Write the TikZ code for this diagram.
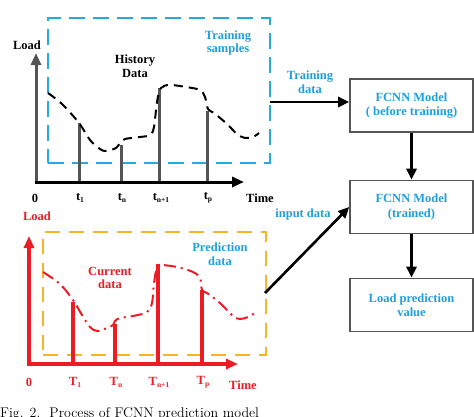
\documentclass[tikz,border=0pt]{standalone}
\usepackage{fontspec}
\newfontfamily\tnr{Liberation Serif}
\usetikzlibrary{arrows.meta}
\definecolor{cblue}{RGB}{30,160,222}
\definecolor{cbox}{RGB}{40,168,224}
\definecolor{corange}{RGB}{246,180,40}
\definecolor{cred}{RGB}{236,28,36}
\definecolor{cgray}{RGB}{85,85,85}
\newcommand\sbs[1]{\raisebox{-0.35ex}{\fontsize{7.5}{7.5}\selectfont #1}}
\tikzset{
  lab/.style={font=\tnr\bfseries\fontsize{12.5}{13.5}\selectfont, inner sep=0pt, align=center},
  blab/.style={lab, text=cblue},
  rlab/.style={lab, text=cred},
  modelbox/.style={draw=cgray, line width=1.6pt, minimum width=123pt, minimum height=53pt, inner sep=0pt, align=center, font=\tnr\bfseries\fontsize{12.5}{14.5}\selectfont, text=cblue},
  flow/.style={line width=2.6pt, -{Triangle[length=11pt,width=10pt]}},
  axis/.style={line width=3pt, -{Triangle[length=12pt,width=10pt]}},
  bar/.style={line width=3pt, cgray},
  rbar/.style={line width=3.5pt, cred},
}
\begin{document}
\begin{tikzpicture}[x=1pt,y=-1pt]
\useasboundingbox (0,0) rectangle (474,416);
\clip (0,0) rectangle (474,416);
% ---------------- top chart ----------------
\node[draw=cbox, line width=2.6pt, dash pattern=on 16pt off 8pt, minimum width=222pt, minimum height=145pt, inner sep=0pt] (tb) at (159,90.5) {};
\coordinate (o1) at (36,182);
\draw[bar] (79,182) -- (79,123);
\draw[bar] (121,182) -- (121,145);
\draw[bar] (159,182) -- (159,88);
\draw[bar] (207,182) -- (207,111);
\draw[axis, cgray] (o1) -- (36,53);
\draw[axis, black] (34.5,182) -- (244,182);
\draw[line width=2pt, dash pattern=on 9pt off 6pt] plot[smooth, tension=0.55] coordinates {
 (48,93) (62,104) (79,123) (90,140) (100,149) (106,151) (116,148) (120,143) (125,139) (140,137) (150,135) (154,127) (157,102) (161,88) (170,85) (186,87) (200,90) (205,97) (208,109) (214,113) (227,124) (237,134) (245,138) (253,137) (259,133)};
\node[lab] (load1) at (27,45) {Load};
\node[lab] (hist) at (135,66) {History\\Data};
\node[blab] (tsam) at (228,43) {Training\\samples};
\node[lab] (z1) at (35,198) {0};
\node[lab] (t1) at (80,198) {t\sbs{1}};
\node[lab] (tn) at (122,198) {t\sbs{n}};
\node[lab] (tn1) at (161,198) {t\sbs{n+1}};
\node[lab] (tp) at (208,198) {t\sbs{p}};
\node[lab] (time1) at (260,198) {Time};
% ---------------- bottom chart ----------------
\node[draw=corange, line width=2.6pt, dash pattern=on 15pt off 9pt, minimum width=223pt, minimum height=123pt, inner sep=0pt] (ob) at (154.5,293.5) {};
\coordinate (o2) at (29,364);
\draw[rbar] (73,364) -- (73,302);
\draw[rbar] (115,364) -- (115,324);
\draw[rbar] (158,364) -- (158,264);
\draw[rbar] (202,364) -- (202,290);
\draw[axis, cred, line width=3.5pt] (o2) -- (29,236);
\draw[axis, cred, line width=3.5pt] (27.3,364) -- (238,364);
\draw[cred, line width=2pt, dash pattern=on 12pt off 5pt on 2pt off 5pt] plot[smooth, tension=0.55] coordinates {
 (43,272) (60,284) (73,300) (82,315) (90,327) (97,331) (107,328) (113,325) (115,321) (120,318) (133,316) (147,312) (152,303) (154,283) (157,267) (161,265) (177,267) (193,272) (200,278) (202,290) (207,293) (220,303) (233,316) (240,319) (248,317) (255,313)};
\node[rlab] (load2) at (37,216) {Load};
\node[rlab] (cur) at (110,278) {Current\\data};
\node[blab] (pred) at (220,254) {Prediction\\data};
\node[rlab] (z2) at (29,382) {0};
\node[rlab] (T1) at (75,382) {T\sbs{1}};
\node[rlab] (Tn) at (116,382) {T\sbs{n}};
\node[rlab] (Tn1) at (159,382) {T\sbs{n+1}};
\node[rlab] (Tp) at (203,382) {T\sbs{p}};
\node[rlab] (time2) at (243,385) {Time};
% ---------------- right flow ----------------
\node[modelbox] (b1) at (411.5,105.5) {FCNN Model\\( before training)};
\node[modelbox] (b2) at (411.5,207) {FCNN Model\\(trained)};
\node[modelbox] (b3) at (411.5,305) {Load prediction\\value};
\coordinate (trs) at (270,102);
\coordinate (ins) at (265,293);
\draw[flow] (trs) -- (trs -| b1.west);
\draw[flow] (b1.south) -- (b2.north);
\draw[flow] (b2.south) -- (b3.north);
\draw[flow] (ins) -- (b2.west);
\node[blab] (trd) at (310,82) {Training\\data};
\node[blab] (ind) at (303,214) {input data};
% ---------------- caption (cut off at the lower edge, as in the reference) ----------------
\node[anchor=base west, inner sep=0pt, font=\fontsize{14}{16}\selectfont] (cap) at (0,417.5) {Fig. 2.\ \ Process of FCNN prediction model};
\end{tikzpicture}
\end{document}
